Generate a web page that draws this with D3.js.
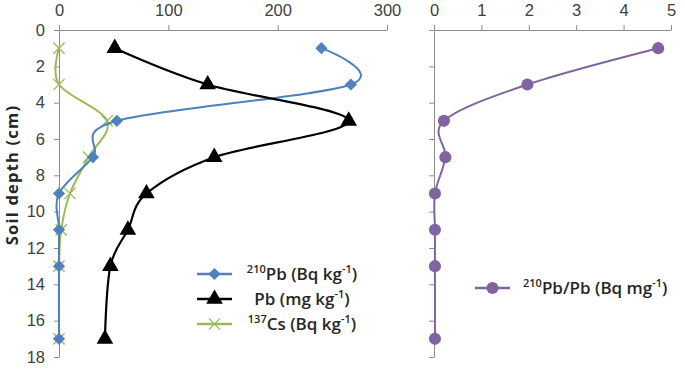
<!DOCTYPE html>
<html>
<head>
<meta charset="utf-8">
<script src="https://cdn.jsdelivr.net/npm/d3@7"></script>
<style>
  body { margin: 0; background: #fff; }
  svg { font-family: "Open Sans", "Liberation Sans", sans-serif; }
</style>
</head>
<body>
<div id="chart"></div>
<script>
// depth of each sample (cm)
var depths = [1, 3, 5, 7, 9, 11, 13, 17];
// series
var pb210 = [240, 267, 53, 31, 0, 0, 0, 0];
var pbTotal = [51, 136, 265, 142, 80, 63, 47, 42];
var cs137 = [0, 0, 44, 27, 10, 2, 0, 0];
var ratio = [4.73, 1.97, 0.21, 0.24, 0.02, 0.02, 0.02, 0.02];

var depthTicks = [0, 2, 4, 6, 8, 10, 12, 14, 16, 18];
var leftTicks = [0, 100, 200, 300];
var rightTicks = [0, 1, 2, 3, 4, 5];

var width = 685, height = 370;
var axisGrey = "#8c8c8c";
var labelGrey = "#404040";

var svg = d3.select("#chart").append("svg")
            .attr("width", width)
            .attr("height", height);

var y = d3.scaleLinear().domain([0, 18]).range([30, 357]);
var xL = d3.scaleLinear().domain([0, 300]).range([59, 387]);
var xR = d3.scaleLinear().domain([0, 5]).range([434, 671]);

var curve = d3.curveCardinal.tension(0);

function styleAxis(g) {
    g.select(".domain").attr("stroke", axisGrey);
    g.selectAll(".tick line").attr("stroke", axisGrey);
    g.selectAll(".tick text")
     .attr("fill", labelGrey)
     .style("font-size", "16.5px");
}

// left panel axes
svg.append("g")
   .attr("transform", "translate(0," + y(0) + ")")
   .call(d3.axisTop(xL).tickValues(leftTicks).tickSize(5).tickPadding(9).tickSizeOuter(0))
   .call(styleAxis);
svg.append("g")
   .attr("transform", "translate(" + xL(0) + ",0)")
   .call(d3.axisLeft(y).tickValues(depthTicks).tickSize(5).tickPadding(9).tickSizeOuter(0))
   .call(styleAxis);

// right panel axes
svg.append("g")
   .attr("transform", "translate(0," + y(0) + ")")
   .call(d3.axisTop(xR).tickValues(rightTicks).tickFormat(d3.format("d")).tickSize(5).tickPadding(9).tickSizeOuter(0))
   .call(styleAxis);
svg.append("g")
   .attr("transform", "translate(" + xR(0) + ",0)")
   .call(d3.axisLeft(y).tickValues(depthTicks).tickSize(5).tickFormat("").tickSizeOuter(0))
   .call(styleAxis);

// y title
svg.append("text")
   .attr("transform", "translate(18,175) rotate(-90)")
   .attr("text-anchor", "middle")
   .attr("fill", "#262626")
   .style("font-size", "16.5px")
   .style("font-weight", "bold")
   .style("letter-spacing", "1.2px")
   .text("Soil depth (cm)");

var symDiamond = d3.symbol().type(d3.symbolDiamond2).size(95);
var symTri = d3.symbol().type(d3.symbolTriangle).size(120);
var symX = d3.symbol().type(d3.symbolTimes).size(85);
var symCircle = d3.symbol().type(d3.symbolCircle).size(115);

var series = [
    { values: cs137, x: xL, color: "#9bbb59", sym: symX, marker: "stroke", w: 2 },
    { values: pb210, x: xL, color: "#4f81bd", sym: symDiamond, marker: "fill", w: 2 },
    { values: pbTotal, x: xL, color: "#000000", sym: symTri, marker: "fill", w: 2.2 },
    { values: ratio, x: xR, color: "#8064a2", sym: symCircle, marker: "fill", w: 2 }
];

series.forEach(function(s) {
    var pts = depths.map((d, i) => [s.x(s.values[i]), y(d)]);
    svg.append("path")
       .attr("d", d3.line().curve(curve)(pts))
       .attr("fill", "none")
       .attr("stroke", s.color)
       .attr("stroke-width", s.w);
    svg.append("g").selectAll("path")
       .data(pts)
       .enter().append("path")
       .attr("transform", d => "translate(" + d[0] + "," + d[1] + ")")
       .attr("d", s.sym)
       .attr("fill", s.marker == "fill" ? s.color : "none")
       .attr("stroke", s.color)
       .attr("stroke-width", s.marker == "fill" ? 0 : 1.3);
});

// legends
var legendLeft = [
    { sup: "210", main: "Pb (Bq kg", tail: ")", s: series[1] },
    { sup: "", main: "Pb (mg kg", tail: ")", s: series[2] },
    { sup: "137", main: "Cs (Bq kg", tail: ")", s: series[0] }
];

function legendItem(x0, x1, ly, tx, anchor, item) {
    svg.append("line")
       .attr("x1", x0).attr("x2", x1)
       .attr("y1", ly).attr("y2", ly)
       .attr("stroke", item.s.color)
       .attr("stroke-width", 2.5);
    svg.append("path")
       .attr("transform", "translate(" + ((x0 + x1) / 2) + "," + ly + ")")
       .attr("d", item.s.sym)
       .attr("fill", item.s.marker == "fill" ? item.s.color : "none")
       .attr("stroke", item.s.color)
       .attr("stroke-width", item.s.marker == "fill" ? 0 : 1.3);
    var t = svg.append("text")
       .attr("x", tx).attr("y", ly + 6)
       .attr("text-anchor", anchor)
       .attr("fill", "#262626")
       .style("font-size", "17px")
       .style("font-weight", "600");
    if (item.sup) t.append("tspan").attr("dy", -7).style("font-size", "11px").text(item.sup);
    t.append("tspan").attr("dy", item.sup ? 7 : 0).text(item.main);
    t.append("tspan").attr("dy", -7).style("font-size", "11px").text("-1");
    t.append("tspan").attr("dy", 7).text(item.tail);
}

legendLeft.forEach(function(item, i) {
    legendItem(197, 232, 274 + i * 25, 302, "middle", item);
});
legendItem(475, 510, 288, 523, "start", { sup: "210", main: "Pb/Pb (Bq mg", tail: ")", s: series[3] });
</script>
</body>
</html>
